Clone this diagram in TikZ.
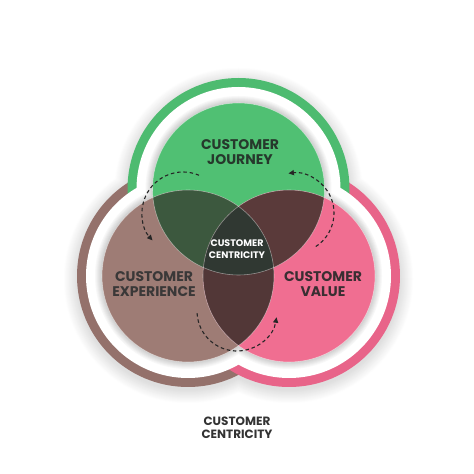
\documentclass[tikz,border=0pt]{standalone}
\usepackage{fontspec}
\setmainfont{Poppins}
\usetikzlibrary{arrows.meta}
\definecolor{cgreen}{HTML}{50C073}
\definecolor{cgreenband}{HTML}{4DBB70}
\definecolor{cbrown}{HTML}{9E7C75}
\definecolor{cbrownband}{HTML}{94716B}
\definecolor{cpink}{HTML}{F06E91}
\definecolor{cpinkband}{HTML}{E86489}
\definecolor{cgb}{HTML}{3C583E}
\definecolor{cgp}{HTML}{5A3A3A}
\definecolor{cbp}{HTML}{523737}
\definecolor{cgbp}{HTML}{303832}
\definecolor{tjour}{HTML}{26392C}
\definecolor{texp}{HTML}{3A3838}
\definecolor{tval}{HTML}{3A2E32}
\definecolor{tbot}{HTML}{333333}
\definecolor{cdash}{HTML}{262626}
\begin{document}
\begin{tikzpicture}[x=1pt,y=1pt,
  dasharrow/.style={draw=cdash,line width=1.1pt,dash pattern=on 3.5pt off 2.8pt,-{Triangle[length=5.5pt,width=5pt]}},
  biglab/.style={font=\bfseries\fontsize{14}{15}\selectfont,align=center},
  midlab/.style={font=\bfseries\fontsize{9.5}{12}\selectfont,align=center,text=white},
  botlab/.style={font=\bfseries\fontsize{12}{12.5}\selectfont,align=center,text=tbot}]
\fill[white] (0,0) rectangle (474,474);
\useasboundingbox (0,0) rectangle (474,474);
\coordinate (G) at (238.5,285);
\coordinate (B) at (188,198);
\coordinate (P) at (289,198);
% soft outer shadow
\foreach \k in {14,...,1}{
  \pgfmathsetmacro{\lv}{0.9*(15-\k)}
  \foreach \c in {G,B,P} \fill[black!\lv] ([yshift=-3pt]\c) circle[radius=110pt+\k pt];
}
% outer coloured bands
\fill[cbrownband] (B) circle[radius=111pt];
\fill[cpinkband] (P) circle[radius=111pt];
\fill[cgreenband] (G) circle[radius=111pt];
% white rings
\foreach \c in {G,B,P} \fill[white] (\c) circle[radius=102pt];
% inner shadow gradient on the white ring
\foreach \k in {7,...,1}{
  \pgfmathsetmacro{\lv}{2.6*(8-\k)}
  \foreach \c in {G,B,P} \fill[black!\lv] (\c) circle[radius=86pt+\k pt];
}
% inner circles
\fill[cgreen] (G) circle[radius=86pt];
\fill[cbrown] (B) circle[radius=86pt];
\fill[cpink] (P) circle[radius=86pt];
\begin{scope}\clip (G) circle[radius=86pt]; \fill[cgb] (B) circle[radius=86pt];\end{scope}
\begin{scope}\clip (G) circle[radius=86pt]; \fill[cgp] (P) circle[radius=86pt];\end{scope}
\begin{scope}\clip (B) circle[radius=86pt]; \fill[cbp] (P) circle[radius=86pt];\end{scope}
\begin{scope}\clip (G) circle[radius=86pt]; \clip (B) circle[radius=86pt]; \fill[cgbp] (P) circle[radius=86pt];\end{scope}
\foreach \c in {G,B,P} \draw[white,opacity=0.45,line width=0.6pt] (\c) circle[radius=86pt];
% dashed arrows
\coordinate (a1) at (183,261);
\coordinate (a2) at (294,261);
\coordinate (a3) at (237,163);
\draw[dasharrow] ([shift={(67:41pt)}]a1) arc[start angle=67,end angle=222,radius=41pt];
\draw[dasharrow] ([shift={(-57:40pt)}]a2) arc[start angle=-57,end angle=98,radius=40pt];
\draw[dasharrow] ([shift={(183:40pt)}]a3) arc[start angle=183,end angle=351,radius=40pt];
% labels
\node[biglab,text=tjour] (tj) at (240,321.5) {CUSTOMER\\JOURNEY};
\node[biglab,text=texp] (te) at (154,189.5) {CUSTOMER\\EXPERIENCE};
\node[biglab,text=tval] (tv) at (323,189.5) {CUSTOMER\\VALUE};
\node[midlab] (tc) at (237,225) {CUSTOMER\\CENTRICITY};
\node[botlab] (tb) at (237,46) {CUSTOMER\\CENTRICITY};
\end{tikzpicture}
\end{document}
